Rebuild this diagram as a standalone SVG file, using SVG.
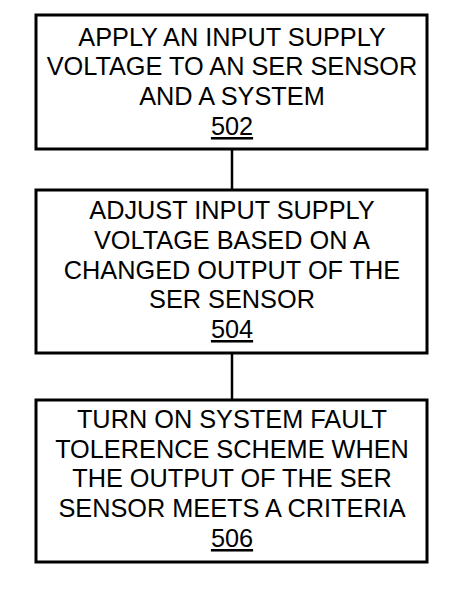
<svg xmlns="http://www.w3.org/2000/svg" width="474" height="594" viewBox="0 0 474 594">
<style>
.box{fill:#fff;stroke:#000;stroke-width:3}
.t{font-family:"Liberation Sans",Arial,sans-serif;font-size:25.3px;fill:#000;text-anchor:middle}
.n{text-decoration:underline}
.c{stroke:#000;stroke-width:2.5;fill:none}
</style>
<rect width="474" height="594" fill="#fff"/>
<g id="connectors">
<line class="c" x1="232" y1="149" x2="232" y2="190"/>
<line class="c" x1="232" y1="353" x2="232" y2="400"/>
</g>
<g id="n502">
<rect class="box" x="36" y="15" width="391" height="134"/>
<text class="t" x="232" y="46">APPLY AN INPUT SUPPLY</text>
<text class="t" x="232" y="75">VOLTAGE TO AN SER SENSOR</text>
<text class="t" x="232" y="105">AND A SYSTEM</text>
<text class="t n" x="232" y="135">502</text>
</g>
<g id="n504">
<rect class="box" x="36" y="190" width="391" height="163"/>
<text class="t" x="232" y="219">ADJUST INPUT SUPPLY</text>
<text class="t" x="232" y="249">VOLTAGE BASED ON A</text>
<text class="t" x="232" y="279">CHANGED OUTPUT OF THE</text>
<text class="t" x="232" y="308">SER SENSOR</text>
<text class="t n" x="232" y="338">504</text>
</g>
<g id="n506">
<rect class="box" x="36" y="400" width="391" height="162"/>
<text class="t" x="232" y="428">TURN ON SYSTEM FAULT</text>
<text class="t" x="232" y="458">TOLERENCE SCHEME WHEN</text>
<text class="t" x="232" y="487">THE OUTPUT OF THE SER</text>
<text class="t" x="232" y="517">SENSOR MEETS A CRITERIA</text>
<text class="t n" x="232" y="547">506</text>
</g>
</svg>
